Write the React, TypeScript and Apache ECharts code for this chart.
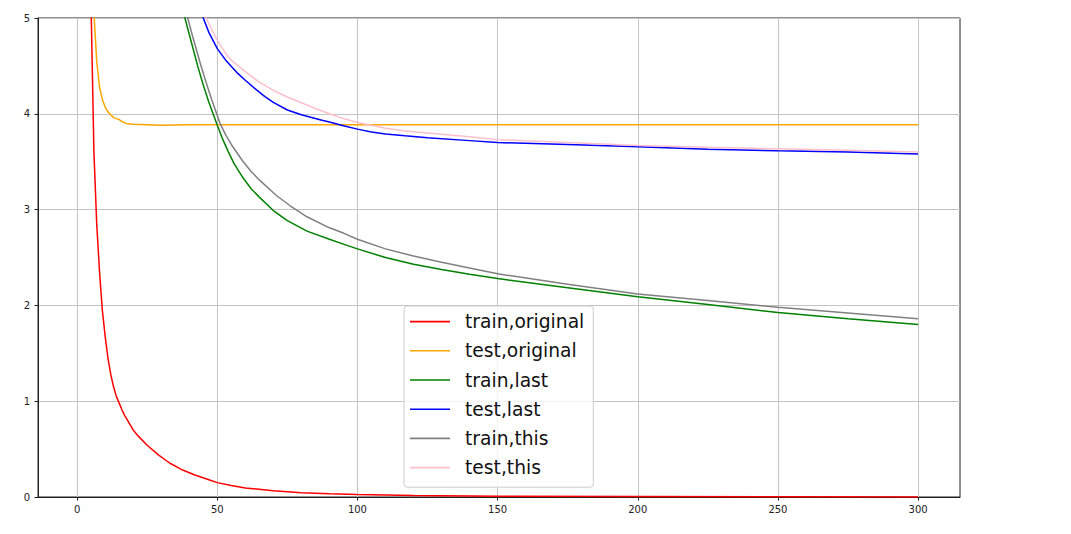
import { useEffect, useRef } from 'react';
import * as echarts from 'echarts';

const xTicks = [0, 50, 100, 150, 200, 250, 300];

const trainOriginalX = [1, 2, 3, 4, 5, 6, 7, 8, 9, 10, 11, 12, 13, 14, 15, 16, 17, 18, 19, 20, 22, 25, 29, 33, 37, 42, 47, 50, 55, 60, 70, 80, 90, 100, 120, 150, 200, 250, 300];
const trainOriginalY = [25, 14, 9, 6.4, 5.1, 3.6, 2.85, 2.35, 1.95, 1.68, 1.45, 1.28, 1.15, 1.05, 0.98, 0.91, 0.85, 0.8, 0.75, 0.7, 0.63, 0.54, 0.44, 0.355, 0.29, 0.23, 0.18, 0.15, 0.12, 0.095, 0.065, 0.045, 0.033, 0.025, 0.015, 0.008, 0.004, 0.002, 0.001];

const testOriginalX = [1, 2, 3, 4, 5, 6, 7, 8, 9, 10, 11, 12, 13, 14, 15, 16, 17, 18, 20, 25, 30, 40, 60, 100, 150, 200, 250, 300];
const testOriginalY = [30, 16, 10, 7, 5.7, 5.05, 4.55, 4.28, 4.15, 4.07, 4.02, 3.99, 3.96, 3.95, 3.94, 3.92, 3.905, 3.895, 3.89, 3.885, 3.88, 3.885, 3.885, 3.885, 3.885, 3.885, 3.885, 3.885];

const trainLastX = [1, 20, 30, 35, 38, 40, 43, 45, 47, 50, 52, 54, 56, 59, 62, 65, 70, 75, 82, 90, 95, 100, 110, 120, 130, 140, 150, 175, 200, 225, 250, 275, 300];
const trainLastY = [30, 9, 6.4, 5.45, 5.05, 4.83, 4.5, 4.3, 4.12, 3.88, 3.73, 3.6, 3.48, 3.34, 3.22, 3.13, 2.99, 2.885, 2.775, 2.69, 2.64, 2.59, 2.5, 2.43, 2.375, 2.325, 2.28, 2.185, 2.09, 2.01, 1.925, 1.86, 1.8];

const testLastX = [1, 30, 40, 45, 47, 50, 53, 57, 60, 64, 67, 70, 75, 80, 87, 90, 95, 100, 105, 110, 117, 125, 140, 150, 175, 200, 225, 250, 275, 300];
const testLastY = [30, 7.5, 5.6, 5.0, 4.85, 4.68, 4.56, 4.43, 4.35, 4.25, 4.18, 4.12, 4.04, 3.99, 3.935, 3.915, 3.875, 3.84, 3.81, 3.79, 3.77, 3.75, 3.72, 3.7, 3.68, 3.655, 3.63, 3.613, 3.6, 3.58];

const trainThisX = [1, 20, 30, 36, 39, 41, 44, 46, 48, 51, 53, 55, 59, 62, 65, 71, 76, 82, 90, 95, 100, 110, 120, 130, 140, 150, 175, 200, 225, 250, 275, 300];
const trainThisY = [30, 9.5, 6.6, 5.45, 5.05, 4.83, 4.52, 4.33, 4.15, 3.9, 3.78, 3.68, 3.51, 3.4, 3.31, 3.15, 3.04, 2.925, 2.81, 2.755, 2.69, 2.59, 2.515, 2.45, 2.39, 2.33, 2.22, 2.12, 2.05, 1.98, 1.92, 1.86];

const testThisX = [1, 30, 40, 46, 48, 50, 53, 55, 60, 65, 70, 75, 80, 85, 90, 95, 100, 110, 117, 125, 140, 150, 175, 200, 225, 250, 275, 300];
const testThisY = [30, 7.6, 5.7, 5.0, 4.88, 4.77, 4.63, 4.56, 4.44, 4.33, 4.245, 4.175, 4.115, 4.055, 4.0, 3.95, 3.91, 3.85, 3.82, 3.8, 3.76, 3.73, 3.7, 3.67, 3.65, 3.635, 3.62, 3.6];

const seriesDefs = [
  { name: 'train,original', color: '#ff0000', xs: trainOriginalX, ys: trainOriginalY },
  { name: 'test,original', color: '#ffa500', xs: testOriginalX, ys: testOriginalY },
  { name: 'train,last', color: '#008000', xs: trainLastX, ys: trainLastY },
  { name: 'test,last', color: '#0000ff', xs: testLastX, ys: testLastY },
  { name: 'train,this', color: '#808080', xs: trainThisX, ys: trainThisY },
  { name: 'test,this', color: '#ffc0cb', xs: testThisX, ys: testThisY },
];

export default function App() {
  const chartRef = useRef<HTMLDivElement>(null);

  useEffect(() => {
    document.body.style.margin = '0';
    if (!chartRef.current) return;
    const chart = echarts.init(chartRef.current, null, { renderer: 'svg' });

    const option: echarts.EChartsOption = {
      animation: false,
      backgroundColor: '#ffffff',
      textStyle: { fontFamily: 'DejaVu Sans' },
      grid: {
        left: 38,
        right: 111,
        top: 18,
        bottom: 37,
        show: true,
        borderColor: '#222',
        borderWidth: 1,
      },
      xAxis: {
        type: 'value',
        min: -13.95,
        max: 314.95,
        axisLine: { onZero: false, lineStyle: { color: '#222', width: 1 } },
        axisTick: { show: true, length: 3.5, customValues: xTicks, lineStyle: { color: '#222' } },
        axisLabel: { customValues: xTicks, color: '#222', fontSize: 10, margin: 7, fontFamily: 'DejaVu Sans' },
        splitLine: { show: true, lineStyle: { color: '#c4c4c4', width: 1 } },
      },
      yAxis: {
        type: 'value',
        min: 0,
        max: 5,
        interval: 1,
        axisLine: { show: true, onZero: false, lineStyle: { color: '#222', width: 1 } },
        axisTick: { show: true, length: 3.5, lineStyle: { color: '#222' } },
        axisLabel: { color: '#222', fontSize: 10, margin: 8, fontFamily: 'DejaVu Sans' },
        splitLine: { show: true, lineStyle: { color: '#c4c4c4', width: 1 } },
      },
      legend: {
        orient: 'vertical',
        left: 404,
        top: 306,
        padding: [1, 9, 5, 6],
        itemGap: 0,
        itemWidth: 40,
        itemHeight: 1.6,
        icon: 'rect',
        backgroundColor: 'rgba(255,255,255,0.8)',
        borderColor: '#cccccc',
        borderWidth: 1,
        borderRadius: 3,
        textStyle: {
          color: '#111',
          fontSize: 18.7,
          fontFamily: 'DejaVu Sans',
          lineHeight: 29.2,
          padding: [0, 0, 0, 10],
        },
        data: seriesDefs.map((s) => s.name),
      },
      series: seriesDefs.map((s) => ({
        name: s.name,
        type: 'line',
        data: s.xs.map((x, i) => [x, s.ys[i]]),
        showSymbol: false,
        symbol: 'none',
        clip: true,
        itemStyle: { color: s.color },
        lineStyle: { color: s.color, width: 1.5 },
      })),
    };

    chart.setOption(option);
    return () => {
      chart.dispose();
    };
  }, []);

  return <div ref={chartRef} style={{ width: 1071, height: 534 }} />;
}
